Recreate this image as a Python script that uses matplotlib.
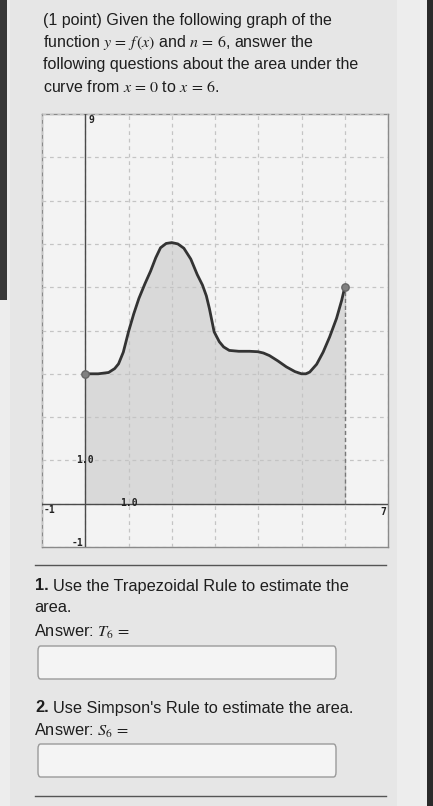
import numpy as np
import matplotlib
matplotlib.use("Agg")
import matplotlib.pyplot as plt
from matplotlib.patches import Rectangle, FancyBboxPatch

plt.rcParams['font.family'] = ['Liberation Sans', 'DejaVu Sans']
plt.rcParams['mathtext.fontset'] = 'stix'

curve_x = [0.0, 0.3, 0.54, 0.68, 0.77, 0.88, 1.0, 1.12, 1.24, 1.38, 1.51, 1.63, 1.74,
           1.87, 2.0, 2.14, 2.28, 2.44, 2.59, 2.71, 2.80, 2.87, 2.98, 3.10, 3.20, 3.33,
           3.55, 3.80, 3.99, 4.12, 4.26, 4.45, 4.65, 4.85, 5.0, 5.10, 5.19, 5.35, 5.5,
           5.65, 5.81, 5.93, 6.0]
curve_y = [3.0, 3.0, 3.03, 3.12, 3.23, 3.5, 3.97, 4.38, 4.74, 5.08, 5.37, 5.68, 5.91,
           6.01, 6.03, 6.0, 5.9, 5.65, 5.29, 5.05, 4.8, 4.51, 3.97, 3.74, 3.62, 3.54,
           3.52, 3.52, 3.51, 3.48, 3.42, 3.3, 3.16, 3.05, 3.0, 3.0, 3.04, 3.22, 3.5,
           3.85, 4.28, 4.7, 5.0]
end_x = [0, 6]
end_y = [3, 5]

header = ["(1 point) Given the following graph of the",
          "function $y\\,=\\,f\\,(x)$ and $n\\,=\\,6$, answer the",
          "following questions about the area under the",
          "curve from $x\\,=\\,0$ to $x\\,=\\,6$."]

W, H = 433, 806
fig = plt.figure(figsize=(W / 100, H / 100), dpi=100)
fig.patch.set_facecolor('#ededed')


def fx(px):
    return px / W


def fy(py):
    return 1 - py / H


# page panel and screen edges
fig.patches.append(Rectangle((fx(10), 0), fx(387), 1, transform=fig.transFigure,
                             facecolor='#e6e6e6', edgecolor='none', zorder=-2))
fig.patches.append(Rectangle((fx(427), 0), fx(6), 1, transform=fig.transFigure,
                             facecolor='#2a2a2a', edgecolor='none', zorder=-2))
fig.patches.append(Rectangle((0, fy(300)), fx(7), fy(0) - fy(300), transform=fig.transFigure,
                             facecolor='#3a3a3a', edgecolor='none', zorder=-2))

ys = [21, 43, 65, 87]
for t, y in zip(header, ys):
    fig.text(fx(43), fy(y), t, fontsize=11.5, va='center', ha='left', color='#1e1e1e')

# graph
ax = fig.add_axes([fx(42), fy(547), fx(346), (547 - 114) / H])
ax.set_facecolor('#f3f3f3')
ax.set_xlim(-1, 7)
ax.set_ylim(-1, 9)
ax.set_xticks(range(-1, 8))
ax.set_yticks(range(-1, 10))
ax.tick_params(length=0, labelbottom=False, labelleft=False)
ax.set_axisbelow(False)
ax.grid(True, color='#c4c4c4', linestyle=(0, (3, 3)), linewidth=0.9)
for s in ax.spines.values():
    s.set_color('#8a8a8a')
    s.set_linewidth(1.0)

ax.fill_between(curve_x, 0, curve_y, color='#d9d9d9', zorder=1, linewidth=0)
ax.axhline(0, color='#4a4a4a', linewidth=1.0, zorder=2.6)
ax.axvline(0, color='#4a4a4a', linewidth=1.0, zorder=2.6)
ax.vlines(6, 0, 5, color='#777777', linestyle=(0, (3, 2)), linewidth=1.0, zorder=2.7)
ax.plot(curve_x, curve_y, color='#333333', linewidth=2.0, zorder=3,
        solid_capstyle='round', solid_joinstyle='round')
ax.scatter(end_x, end_y, s=28, color='#808080', edgecolor='#666666', zorder=4)

lab = dict(fontsize=7, family='DejaVu Sans Mono', fontweight='bold', color='#222222')
ax.text(0.08, 8.85, "9", ha='left', va='center', **lab)
ax.text(-0.97, -0.15, "-1", ha='left', va='center', **lab)
ax.text(6.95, -0.2, "7", ha='right', va='center', **lab)
ax.text(-0.05, -0.9, "-1", ha='right', va='center', **lab)
ax.text(0, 1, "1.0", ha='center', va='center', **lab)
ax.text(1, 0.02, "1.0", ha='center', va='center', **lab)

# questions
fig.lines.append(plt.Line2D([fx(35), fx(386)], [fy(565), fy(565)], transform=fig.transFigure,
                            color='#555555', linewidth=1.0))
fig.lines.append(plt.Line2D([fx(35), fx(386)], [fy(796), fy(796)], transform=fig.transFigure,
                            color='#555555', linewidth=1.0))

qs = 11.8
fig.text(fx(35), fy(586), "1.", fontsize=qs, fontweight='bold', va='center', color='#1e1e1e')
fig.text(fx(53), fy(586), "Use the Trapezoidal Rule to estimate the", fontsize=qs,
         va='center', color='#1e1e1e')
fig.text(fx(34), fy(608), "area.", fontsize=qs, va='center', color='#1e1e1e')
fig.text(fx(34), fy(632), "Answer: $T_6\\,=$", fontsize=qs, va='center', color='#1e1e1e')
fig.text(fx(35), fy(708), "2.", fontsize=qs, fontweight='bold', va='center', color='#1e1e1e')
fig.text(fx(53), fy(708), "Use Simpson's Rule to estimate the area.", fontsize=qs,
         va='center', color='#1e1e1e')
fig.text(fx(34), fy(731), "Answer: $S_6\\,=$", fontsize=qs, va='center', color='#1e1e1e')

for top in (646, 744):
    fig.patches.append(FancyBboxPatch((fx(38), fy(top + 33)), fx(298), 33 / H,
                                      boxstyle="round,pad=0,rounding_size=0.006",
                                      transform=fig.transFigure, facecolor='#f4f4f4',
                                      edgecolor='#9a9a9a', linewidth=1.0))

fig.savefig("out.png", dpi=100, facecolor=fig.get_facecolor())
